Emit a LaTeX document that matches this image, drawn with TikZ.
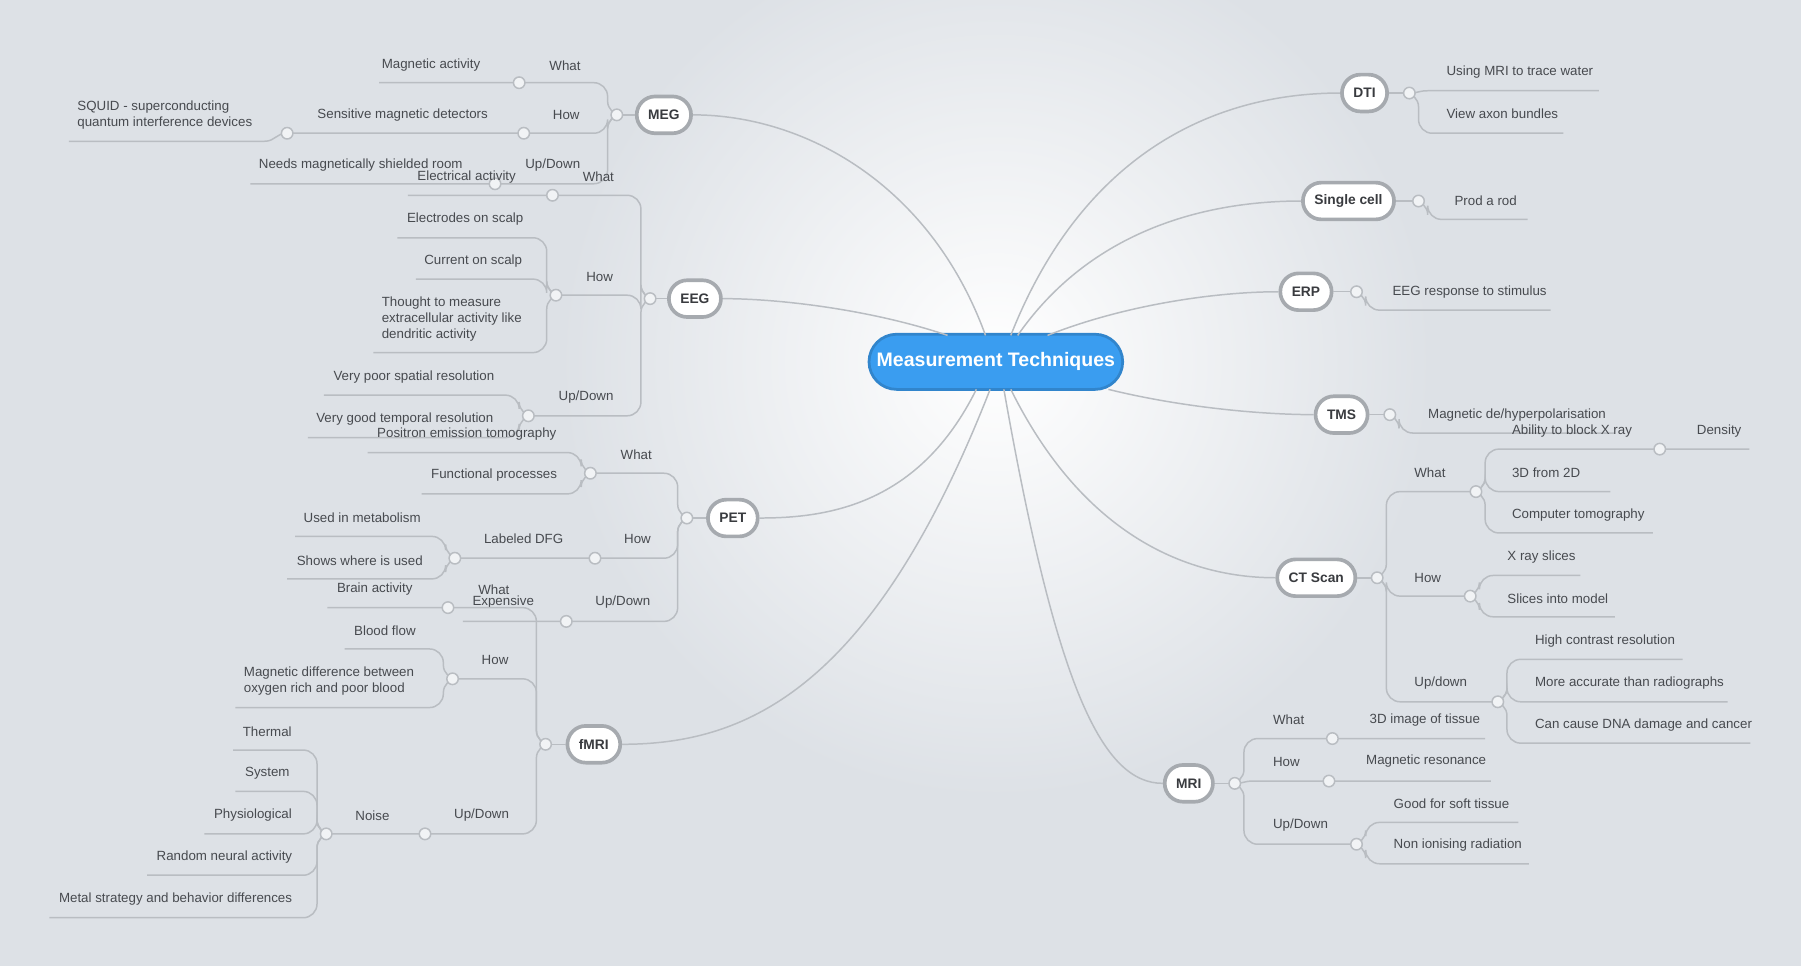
\documentclass[tikz,border=0pt]{standalone}
\usepackage{fontspec}
\setmainfont{Liberation Sans}
\definecolor{bg}{HTML}{DDE1E6}
\definecolor{ln}{HTML}{B9BDC2}
\definecolor{tx}{HTML}{474A4F}
\definecolor{blu}{HTML}{3A9DF0}
\tikzset{
 lnk/.style={draw=ln,line width=0.65pt},
 lbl/.style={anchor=west,inner sep=0,text=tx,font=\fontsize{5.8}{7}\selectfont,align=left},
 jct/.style={circle,draw=ln,line width=0.65pt,fill=bg!40!white,minimum size=5pt,inner sep=0},
 mainbox/.style={draw=ln!90!black,line width=1.6pt,fill=white,rounded corners=8pt,minimum height=16pt,inner xsep=5pt,text=tx!80!black,font=\fontsize{6}{7}\selectfont\bfseries},
}
\newcommand\lt[3]{\node[lbl] at (#1,#2) {#3};}
\newcommand\jc[2]{\node[jct] at (#1,#2) {};}
\newcommand\lb[4]{\draw[lnk,rounded corners=6pt] (#1,#2) -- ++(-8,0) |- (#4,#3);}
\newcommand\rb[4]{\draw[lnk,rounded corners=6pt] (#1,#2) -- ++(8,0) |- (#4,#3);}
\begin{document}
\begin{tikzpicture}[x=0.5pt,y=-0.5pt]
\fill[bg] (0,0) rectangle (1568,841);
\useasboundingbox (0,0) rectangle (1568,841);
\shade[inner color=white,outer color=bg] (867,315) circle (190pt);
% main nodes
\node[draw=blu!85!black,line width=1.2pt,fill=blu,rounded corners=12pt,minimum width=110pt,minimum height=24pt,text=white,font=\fontsize{8.5}{10}\selectfont\bfseries] (C) at (867,315) {Measurement Techniques};
\node[mainbox] (MEG) at (578,100) {MEG};
\node[mainbox] (EEG) at (605,260) {EEG};
\node[mainbox] (PET) at (638,451) {PET};
\node[mainbox] (fMRI) at (517,648) {fMRI};
\node[mainbox] (DTI) at (1188,81) {DTI};
\node[mainbox] (SC) at (1174,175) {Single cell};
\node[mainbox] (ERP) at (1137,254) {ERP};
\node[mainbox] (TMS) at (1168,361) {TMS};
\node[mainbox] (CT) at (1146,503) {CT Scan};
\node[mainbox] (MRI) at (1035,682) {MRI};
% center connectors
\draw[lnk] (858,292) .. controls (810,160) and (700,100) .. (MEG.east);
\draw[lnk] (825,292) .. controls (760,270) and (680,260) .. (EEG.east);
\draw[lnk] (850,339) .. controls (800,440) and (720,451) .. (PET.east);
\draw[lnk] (862,339) .. controls (760,600) and (650,648) .. (fMRI.east);
\draw[lnk] (880,292) .. controls (940,140) and (1050,81) .. (DTI.west);
\draw[lnk] (886,292) .. controls (950,200) and (1050,175) .. (SC.west);
\draw[lnk] (912,292) .. controls (980,265) and (1060,254) .. (ERP.west);
\draw[lnk] (965,339) .. controls (1030,355) and (1100,361) .. (TMS.west);
\draw[lnk] (880,339) .. controls (950,480) and (1050,503) .. (CT.west);
\draw[lnk] (874,339) .. controls (920,600) and (960,682) .. (MRI.west);
% stubs
\draw[lnk] (MEG.west) -- (537,100);
\draw[lnk] (EEG.west) -- (566,260);
\draw[lnk] (PET.west) -- (598,451);
\draw[lnk] (fMRI.west) -- (475,648);
\draw[lnk] (DTI.east) -- (1227,81);
\draw[lnk] (SC.east) -- (1235,175);
\draw[lnk] (ERP.east) -- (1181,254);
\draw[lnk] (TMS.east) -- (1210,361);
\draw[lnk] (CT.east) -- (1199,503);
\draw[lnk] (MRI.east) -- (1075,682);
% MEG
\lb{537}{100}{72}{330} \lb{537}{100}{116}{252} \lb{537}{100}{160}{218}
\draw[lnk] (250,116) .. controls (240,116) and (240,123) .. (230,123) -- (60,123);
\jc{452}{72}\jc{456}{116}\jc{250}{116}\jc{431}{160}\jc{537}{100}
\lt{478}{57}{What}\lt{332}{57}{Magnetic activity}
\lt{481}{100}{How}\lt{276}{100}{Sensitive magnetic detectors}
\lt{67}{100}{SQUID - superconducting\\quantum interference devices}
\lt{457}{144}{Up/Down}\lt{225}{144}{Needs magnetically shielded room}
% EEG
\lb{566}{260}{170}{355} \lb{566}{260}{257}{484}
\lb{484}{257}{207}{346}\lb{484}{257}{243}{362}\lb{484}{257}{307}{325}
\lb{566}{260}{362}{460}\lb{460}{362}{344}{282}\lb{460}{362}{381}{268}
\jc{481}{170}\jc{484}{257}\jc{460}{362}\jc{566}{260}
\lt{507}{154}{What}\lt{363}{154}{Electrical activity}
\lt{510}{241}{How}\lt{354}{191}{Electrodes on scalp}\lt{369}{227}{Current on scalp}
\lt{332}{278}{Thought to measure\\extracellular activity like\\dendritic activity}
\lt{486}{346}{Up/Down}\lt{290}{328}{Very poor spatial resolution}\lt{275}{365}{Very good temporal resolution}
% PET
\lb{598}{451}{412}{514}\lb{514}{412}{394}{320}\lb{514}{412}{430}{367}
\lb{598}{451}{486}{396}\lb{396}{486}{467}{257}\lb{396}{486}{504}{250}
\lb{598}{451}{541}{403}
\jc{514}{412}\jc{518}{486}\jc{396}{486}\jc{493}{541}\jc{598}{451}
\lt{540}{396}{What}\lt{328}{378}{Positron emission tomography}\lt{375}{414}{Functional processes}
\lt{543}{469}{How}\lt{421}{469}{Labeled DFG}\lt{264}{451}{Used in metabolism}\lt{258}{488}{Shows where is used}
\lt{518}{524}{Up/Down}\lt{411}{524}{Expensive}
% fMRI
\lb{475}{648}{529}{285}\lb{475}{648}{591}{394}\lb{394}{591}{565}{300}\lb{394}{591}{616}{205}
\lb{475}{648}{726}{284}
\lb{284}{726}{653}{203}\lb{284}{726}{689}{205}\lb{284}{726}{726}{178}\lb{284}{726}{762}{128}\lb{284}{726}{799}{43}
\jc{390}{529}\jc{394}{591}\jc{370}{726}\jc{284}{726}\jc{475}{648}
\lt{416}{513}{What}\lt{293}{513}{Brain activity}
\lt{419}{575}{How}\lt{308}{549}{Blood flow}\lt{212}{593}{Magnetic difference between\\oxygen rich and poor blood}
\lt{395}{710}{Up/Down}\lt{309}{710}{Noise}
\lt{211}{637}{Thermal}\lt{213}{673}{System}\lt{186}{710}{Physiological}\lt{136}{746}{Random neural activity}\lt{51}{783}{Metal strategy and behavior differences}
% DTI etc
\draw[lnk] (1227,81) .. controls (1235,81) and (1235,79) .. (1243,79) -- (1392,79);
\rb{1227}{81}{116}{1361}\jc{1227}{81}
\lt{1259}{63}{Using MRI to trace water}\lt{1259}{99}{View axon bundles}
\rb{1235}{175}{191}{1330}\jc{1235}{175}\lt{1266}{175}{Prod a rod}
\rb{1181}{254}{270}{1350}\jc{1181}{254}\lt{1212}{254}{EEG response to stimulus}
\rb{1210}{361}{377}{1405}\jc{1210}{361}\lt{1243}{361}{Magnetic de/hyperpolarisation}
% CT
\rb{1199}{503}{428}{1285}\rb{1285}{428}{391}{1523}\rb{1285}{428}{428}{1402}\rb{1285}{428}{464}{1439}
\rb{1199}{503}{519}{1280}\rb{1280}{519}{501}{1376}\rb{1280}{519}{537}{1406}
\rb{1199}{503}{611}{1304}\rb{1304}{611}{574}{1465}\rb{1304}{611}{611}{1504}\rb{1304}{611}{647}{1524}
\jc{1285}{428}\jc{1445}{391}\jc{1280}{519}\jc{1304}{611}\jc{1199}{503}
\lt{1231}{412}{What}\lt{1316}{375}{Ability to block X ray}\lt{1477}{375}{Density}\lt{1316}{412}{3D from 2D}\lt{1316}{448}{Computer tomography}
\lt{1231}{503}{How}\lt{1312}{485}{X ray slices}\lt{1312}{521}{Slices into model}
\lt{1231}{595}{Up/down}\lt{1336}{558}{High contrast resolution}\lt{1336}{595}{More accurate than radiographs}\lt{1336}{631}{Can cause DNA damage and cancer}
% MRI
\rb{1075}{682}{643}{1293}\rb{1075}{682}{735}{1181}
\draw[lnk] (1075,682) .. controls (1083,682) and (1083,680) .. (1091,680) -- (1298,680);
\rb{1181}{735}{716}{1322}\rb{1181}{735}{752}{1331}
\jc{1160}{643}\jc{1157}{680}\jc{1181}{735}\jc{1075}{682}
\lt{1108}{627}{What}\lt{1192}{627}{3D image of tissue}
\lt{1108}{663}{How}\lt{1189}{663}{Magnetic resonance}
\lt{1108}{718}{Up/Down}\lt{1213}{700}{Good for soft tissue}\lt{1213}{736}{Non ionising radiation}
\end{tikzpicture}
\end{document}
